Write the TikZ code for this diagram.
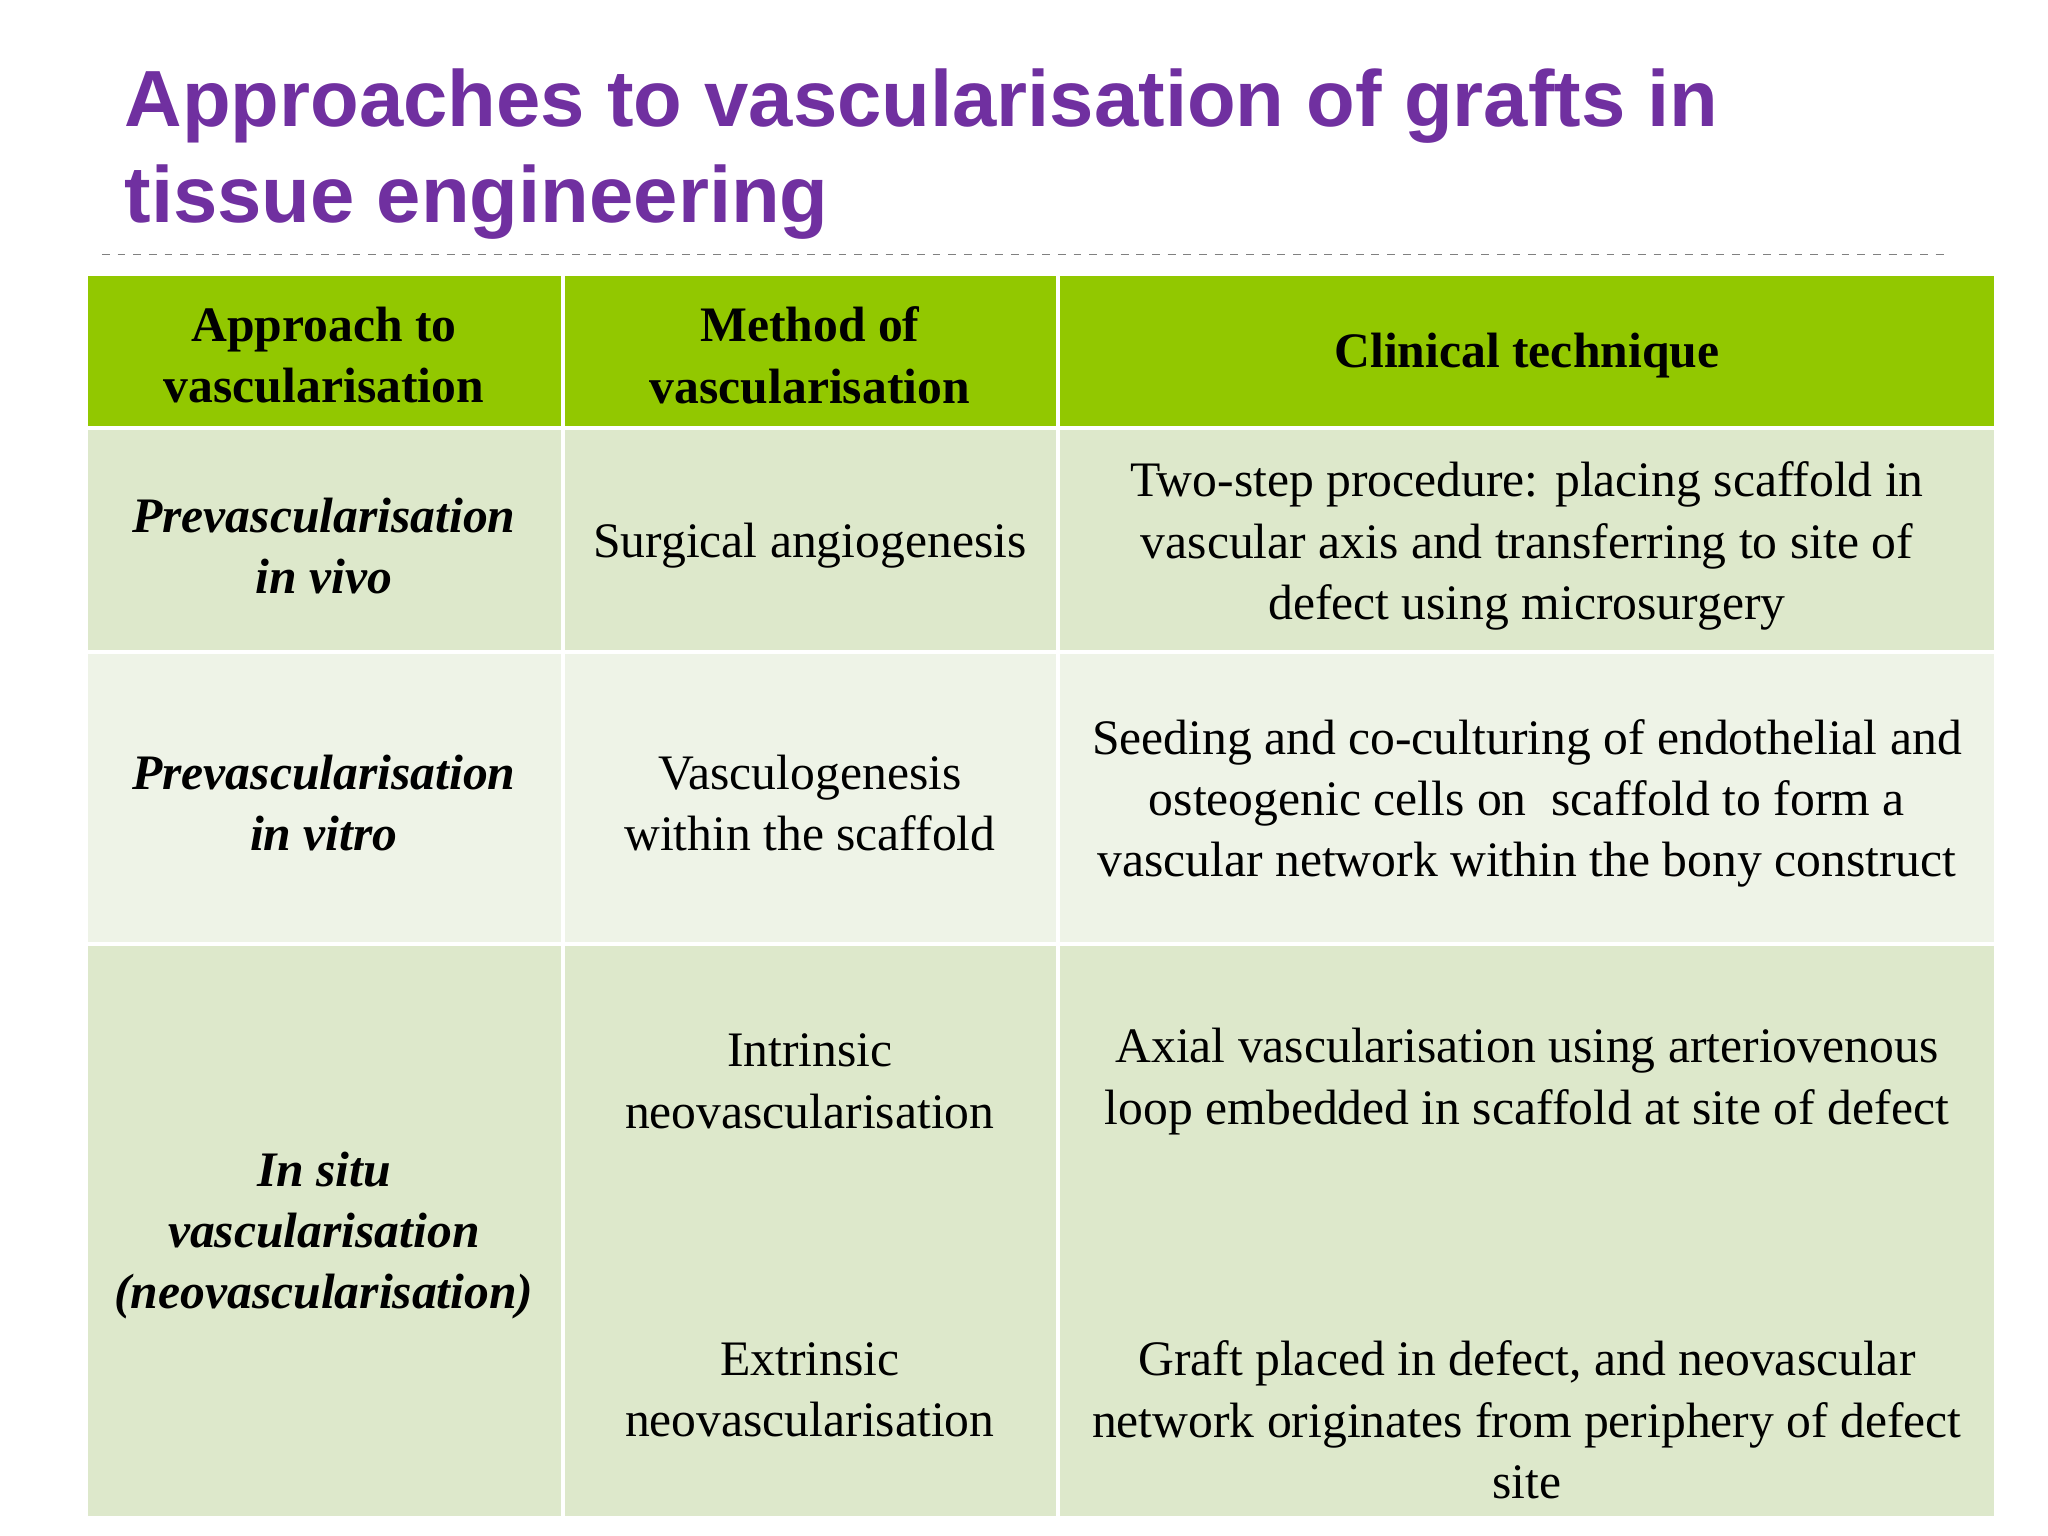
\documentclass[tikz,border=0pt]{standalone}
\usepackage{fontspec}
\setmainfont{Liberation Serif}
\newfontfamily\titlefont{Liberation Sans}
\definecolor{hdr}{HTML}{92C800}
\definecolor{rowa}{HTML}{DDE8CB}
\definecolor{rowb}{HTML}{EEF3E7}
\definecolor{ttl}{HTML}{7030A0}
\begin{document}
\begin{tikzpicture}[x=0.5pt,y=-0.5pt,
  cell/.style={draw=white,line width=1.5pt},
  txt/.style={align=center,font=\fontsize{19}{23.5}\selectfont,inner sep=0pt},
  hd/.style={txt,font=\fontsize{19}{23.5}\selectfont\bfseries},
  hdi/.style={txt,font=\fontsize{19}{23.5}\selectfont\bfseries\itshape}]
\useasboundingbox (0,0) rectangle (1568,1176);
\fill[white] (0,0) rectangle (1568,1176);
\node[anchor=north west,inner sep=0pt,text=ttl,font=\titlefont\fontsize{30.5}{37}\selectfont\bfseries,align=left] (title) at (95,52) {Approaches to vascularisation of grafts in\\tissue engineering};
\coordinate (dl) at (78,195); \coordinate (dr) at (1490,195);
\draw[gray,dashed,line width=0.6pt] (dl) -- (dr);
\foreach \a/\b in {66/431,431/810,810/1528}{
  \fill[hdr,cell] (\a,210) rectangle (\b,328);
  \fill[rowa,cell] (\a,328) rectangle (\b,499);
  \fill[rowb,cell] (\a,499) rectangle (\b,723);
  \fill[rowa,cell] (\a,723) rectangle (\b,1162);
}
\node[hd] (h1) at (248,272) {Approach to\\vascularisation};
\node[hd] (h2) at (620,272) {Method of\\vascularisation};
\node[hd] (h3) at (1169,272) {Clinical technique};
\node[hdi] (a1) at (248,418) {Prevascularisation\\in vivo};
\node[txt] (b1) at (620,418) {Surgical angiogenesis};
\node[txt] (c1) at (1169,418) {Two-step procedure: placing scaffold in\\vascular axis and transferring to site of\\defect using microsurgery};
\node[hdi] (a2) at (248,615) {Prevascularisation\\in vitro};
\node[txt] (b2) at (620,615) {Vasculogenesis\\within the scaffold};
\node[txt] (c2) at (1169,615) {Seeding and co-culturing of endothelial and\\osteogenic cells on\ \ scaffold to form a\\vascular network within the bony construct};
\node[hdi] (a3) at (248,946) {In situ\\vascularisation\\(neovascularisation)};
\node[txt] (b3) at (620,828) {Intrinsic\\neovascularisation};
\node[txt] (c3) at (1169,828) {Axial vascularisation using arteriovenous\\loop embedded in scaffold at site of defect};
\node[txt] (b4) at (620,1064) {Extrinsic\\neovascularisation};
\node[txt] (c4) at (1169,1087) {Graft placed in defect, and neovascular\\network originates from periphery of defect\\site};
\end{tikzpicture}
\end{document}
